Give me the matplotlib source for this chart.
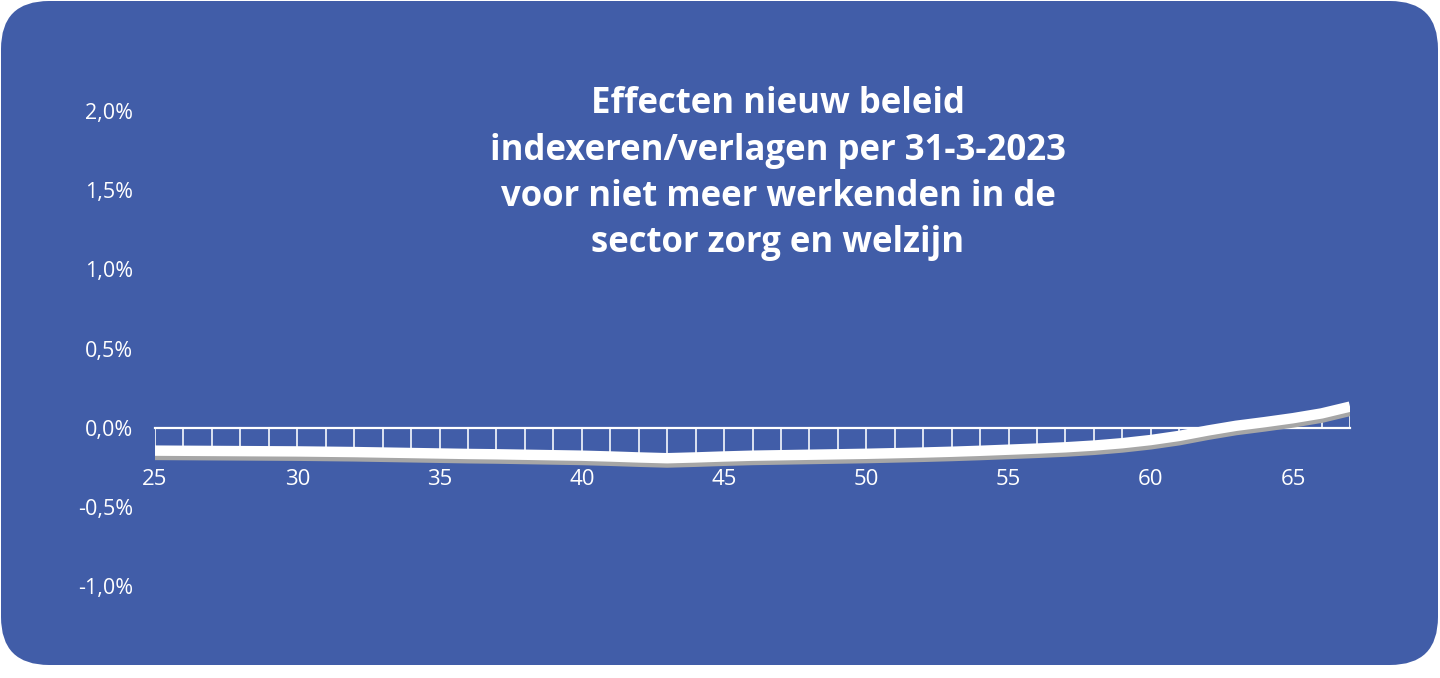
import matplotlib
matplotlib.use("Agg")
import matplotlib.pyplot as plt
from matplotlib.patches import FancyBboxPatch
from matplotlib.transforms import IdentityTransform, offset_copy

# ---- data ----
ages = list(range(25, 68))
effect = [-0.145, -0.146, -0.147, -0.148, -0.149, -0.150, -0.152, -0.154, -0.157, -0.160,
          -0.163, -0.166, -0.168, -0.171, -0.174, -0.177, -0.182, -0.188, -0.193, -0.188,
          -0.182, -0.177, -0.174, -0.171, -0.168, -0.165, -0.161, -0.157, -0.152, -0.146,
          -0.139, -0.132, -0.124, -0.113, -0.098, -0.078, -0.052, -0.018, 0.012, 0.035,
          0.060, 0.090, 0.133]
x_ticks = [25, 30, 35, 40, 45, 50, 55, 60, 65]
y_ticks = [-1.0, -0.5, 0.0, 0.5, 1.0, 1.5, 2.0]
y_labels = ["-1,0%", "-0,5%", "0,0%", "0,5%", "1,0%", "1,5%", "2,0%"]
title_lines = ["Effecten nieuw beleid",
               "indexeren/verlagen per 31-3-2023",
               "voor niet meer werkenden in de",
               "sector zorg en welzijn"]

BG = "#415DA8"
W, H = 1440, 678
fig = plt.figure(figsize=(W / 100, H / 100), dpi=100)
fig.patch.set_facecolor("white")

# rounded background panel (pixel coords, origin bottom-left)
panel = FancyBboxPatch((1, H - 665), 1437, 664,
                       boxstyle="round,pad=0,rounding_size=48",
                       transform=IdentityTransform(), facecolor=BG,
                       edgecolor="none", zorder=0)
fig.add_artist(panel)

ax = fig.add_axes([155 / W, 1 - 586 / H, (1350 - 155) / W, (586 - 111) / H])
ax.set_facecolor("none")
ax.set_xlim(25, 67)
ax.set_ylim(-1.0, 2.0)

# drop lines from zero to the series
ax.vlines(ages, 0, effect, colors="#e8ecf6", lw=1.3, zorder=2)

# ribbon: grey shadow then white top
shadow = offset_copy(ax.transData, fig=fig, x=0, y=-5, units="dots")
ax.plot(ages, effect, color="#a6a6a6", lw=6.5, solid_capstyle="butt",
        solid_joinstyle="round", transform=shadow, zorder=3)
ax.plot(ages, effect, color="white", lw=7.5, solid_capstyle="butt",
        solid_joinstyle="round", zorder=4)

for s in ["top", "right", "left"]:
    ax.spines[s].set_visible(False)
ax.spines["bottom"].set_position(("data", 0))
ax.spines["bottom"].set_color("white")
ax.spines["bottom"].set_linewidth(1.6)
ax.spines["bottom"].set_zorder(2.5)

ax.set_xticks(x_ticks)
ax.set_xticklabels([str(t) for t in x_ticks])
ax.set_yticks(y_ticks)
ax.set_yticklabels(y_labels)
ax.tick_params(axis="x", length=0, pad=30, colors="white", labelsize=16)
ax.tick_params(axis="y", length=0, pad=16, colors="white", labelsize=15.5)
for lab in ax.get_xticklabels() + ax.get_yticklabels():
    lab.set_fontfamily(["Open Sans", "DejaVu Sans"])

ys = [104, 151, 197, 243]
for line, yy in zip(title_lines, ys):
    fig.text(778 / W, 1 - yy / H, line, ha="center", va="center",
             color="white", fontsize=25, fontweight="bold",
             family=["Open Sans", "DejaVu Sans"])

fig.savefig("out.png", dpi=100, facecolor="white")
